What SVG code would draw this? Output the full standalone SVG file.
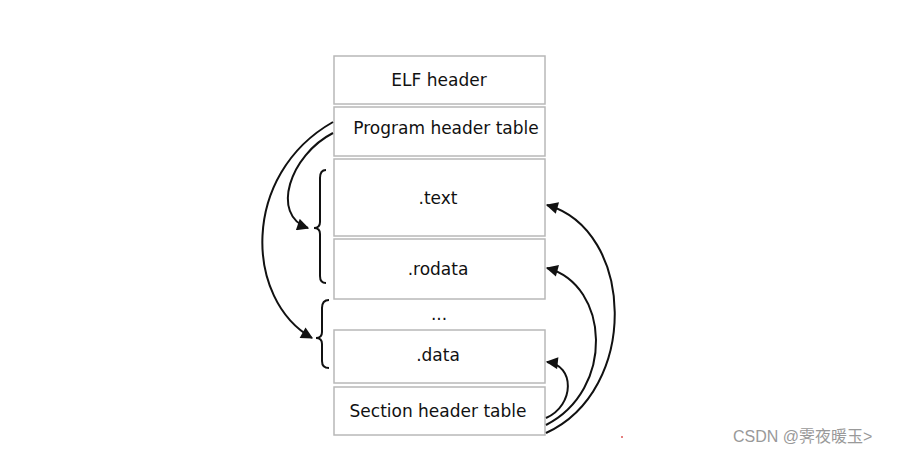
<svg xmlns="http://www.w3.org/2000/svg" width="905" height="454" viewBox="0 0 905 454">
<style>
.b{fill:#fff;stroke:#b8b8b8;stroke-width:1.5}
.t{font-family:"DejaVu Sans",sans-serif;font-size:17px;fill:#111;text-anchor:middle}
.c{fill:none;stroke:#111;stroke-width:2}
</style>
<defs><marker id="a" viewBox="0 0 10 10" refX="9" refY="5" markerWidth="7" markerHeight="7" orient="auto" markerUnits="userSpaceOnUse"><path d="M0,0L10,5L0,10z" fill="#111"/></marker>
<marker id="m" viewBox="0 0 10 10" refX="9" refY="5" markerWidth="14" markerHeight="12" orient="auto" markerUnits="userSpaceOnUse"><path d="M0,0L10,5L0,10z" fill="#111"/></marker></defs>
<rect width="905" height="454" fill="#fff"/>
<g id="elf"><rect class="b" x="334" y="56" width="211" height="48"/><text class="t" x="439" y="86">ELF header</text></g>
<g id="pht"><rect class="b" x="334" y="107" width="211" height="49"/><text class="t" x="446" y="134">Program header table</text></g>
<g id="text"><rect class="b" x="334" y="159" width="211" height="77"/><text class="t" x="438" y="204">.text</text></g>
<g id="rodata"><rect class="b" x="334" y="239" width="211" height="60"/><text class="t" x="438" y="275">.rodata</text></g>
<g id="dots"><text class="t" x="439" y="320">...</text></g>
<g id="data"><rect class="b" x="334" y="330" width="211" height="53"/><text class="t" x="438" y="361">.data</text></g>
<g id="sht"><rect class="b" x="334" y="387" width="211" height="48"/><text class="t" x="438" y="417">Section header table</text></g>
<g id="connectors">
<path class="c" d="M326,170 Q320,170 320,178 L320,222 Q320,228 314,228 Q320,228 320,234 L320,276 Q320,283 326,283" stroke-width="1.6"/>
<path class="c" d="M329,300 Q322,300 322,308 L322,332 Q322,338 316,338 Q322,338 322,344 L322,361 Q322,368 329,368" stroke-width="1.6"/>
<path class="c" d="M333,133 C290,155 270,215 308,228" marker-end="url(#m)"/>
<path class="c" d="M333,122 C240,175 245,300 312,338" marker-end="url(#m)"/>
<path class="c" d="M546,433 C640,390 635,230 547,205" marker-end="url(#m)"/>
<path class="c" d="M546,425 C615,390 610,285 547,268" marker-end="url(#m)"/>
<path class="c" d="M546,418 C575,405 575,365 547,362" marker-end="url(#m)"/>
</g>
<circle cx="622" cy="437" r="1" fill="#d55"/>
<text x="733" y="442" font-family="'Liberation Sans','Noto Sans CJK SC',sans-serif" font-size="16" fill="#999">CSDN @霁夜暖玉&gt;</text>
</svg>
